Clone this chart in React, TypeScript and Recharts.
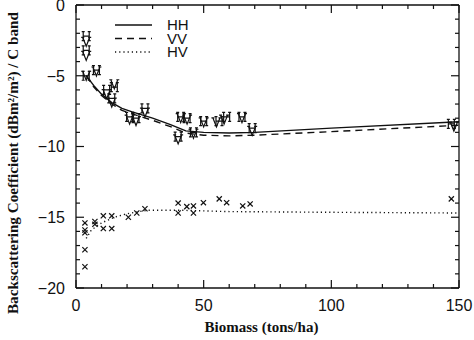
import React from "react";
import {
  ComposedChart,
  Line,
  Scatter,
  XAxis,
  YAxis,
} from "recharts";

// ---- data ----
const hhLine = [
  { x: 4, y: -5.0 }, { x: 7, y: -5.7 }, { x: 10, y: -6.3 }, { x: 14, y: -6.9 },
  { x: 18, y: -7.3 }, { x: 22, y: -7.55 }, { x: 30, y: -8.0 }, { x: 37, y: -8.45 },
  { x: 43, y: -8.9 }, { x: 50, y: -9.0 }, { x: 60, y: -9.05 }, { x: 70, y: -9.0 },
  { x: 100, y: -8.7 }, { x: 150, y: -8.25 },
];
const vvLine = [
  { x: 4, y: -5.0 }, { x: 7, y: -5.8 }, { x: 10, y: -6.4 }, { x: 14, y: -7.0 },
  { x: 18, y: -7.45 }, { x: 22, y: -7.7 }, { x: 30, y: -8.15 }, { x: 37, y: -8.6 },
  { x: 43, y: -9.05 }, { x: 50, y: -9.2 }, { x: 60, y: -9.25 }, { x: 70, y: -9.2 },
  { x: 100, y: -8.95 }, { x: 150, y: -8.5 },
];
const hvLine = [
  { x: 4, y: -16.5 }, { x: 6, y: -15.9 }, { x: 10, y: -15.4 }, { x: 15, y: -15.0 },
  { x: 20, y: -14.75 }, { x: 28, y: -14.5 }, { x: 40, y: -14.5 }, { x: 60, y: -14.6 },
  { x: 100, y: -14.65 }, { x: 150, y: -14.7 },
];
const hhPoints = [
  { x: 4, y: -2.2 }, { x: 4, y: -3.2 }, { x: 4, y: -5.0 }, { x: 8, y: -4.6 },
  { x: 12, y: -6.0 }, { x: 14, y: -6.6 }, { x: 15, y: -5.8 }, { x: 21, y: -7.9 },
  { x: 23.5, y: -8.0 }, { x: 27, y: -7.3 }, { x: 40, y: -9.3 }, { x: 41, y: -7.9 },
  { x: 43.5, y: -8.0 }, { x: 46, y: -9.0 }, { x: 50, y: -8.2 }, { x: 56, y: -8.2 },
  { x: 59, y: -7.9 }, { x: 65, y: -7.9 }, { x: 69, y: -8.7 }, { x: 147, y: -8.4 },
];
const vvPoints = [
  { x: 4, y: -2.6 }, { x: 4, y: -3.6 }, { x: 4, y: -5.0 }, { x: 8, y: -4.7 },
  { x: 12, y: -6.3 }, { x: 14, y: -6.9 }, { x: 15, y: -5.6 }, { x: 21, y: -8.1 },
  { x: 23.5, y: -8.2 }, { x: 27, y: -7.6 }, { x: 40, y: -9.5 }, { x: 41, y: -8.0 },
  { x: 43.5, y: -8.1 }, { x: 46, y: -9.1 }, { x: 50, y: -8.3 }, { x: 55, y: -8.3 },
  { x: 58, y: -8.1 }, { x: 65, y: -8.0 }, { x: 69, y: -8.9 }, { x: 148, y: -8.6 },
];
const hvPoints = [
  { x: 3.5, y: -15.4 }, { x: 3.5, y: -15.9 }, { x: 3.5, y: -16.1 }, { x: 3.5, y: -17.3 },
  { x: 3.5, y: -18.5 }, { x: 7.4, y: -15.3 }, { x: 7.4, y: -15.5 }, { x: 10.7, y: -14.9 },
  { x: 10.7, y: -15.8 }, { x: 14, y: -14.9 }, { x: 14, y: -15.8 }, { x: 20.5, y: -15.0 },
  { x: 23.8, y: -14.7 }, { x: 27, y: -14.4 }, { x: 40, y: -14.0 }, { x: 40, y: -14.7 },
  { x: 43.4, y: -14.25 }, { x: 46, y: -14.2 }, { x: 46, y: -14.7 }, { x: 49.9, y: -13.97 },
  { x: 56.1, y: -13.7 }, { x: 59, y: -13.97 }, { x: 65.3, y: -14.2 }, { x: 68.2, y: -14.06 },
  { x: 147, y: -13.7 },
];
const xTicks = [0, 10, 20, 30, 40, 50, 60, 70, 80, 90, 100, 110, 120, 130, 140, 150];
const xLabelTicks = [0, 50, 100, 150];
const yTicks = [-20, -19, -18, -17, -16, -15, -14, -13, -12, -11, -10, -9, -8, -7, -6, -5, -4, -3, -2, -1, 0];
const yLabelTicks = [0, -5, -10, -15, -20];
const legendItems = [
  { name: "HH", dash: "none" },
  { name: "VV", dash: "7 5" },
  { name: "HV", dash: "1.2 3" },
];
const xTitle = "Biomass (tons/ha)";
const yTitle = "Backscattering Coefficient (dBm²/m²) / C band";

const INK = "#111";
const SANS = "'Liberation Sans', Arial, sans-serif";
const SERIF = "'Liberation Serif', 'Times New Roman', serif";

const fmt = (v: number) => (v < 0 ? "\u2212" + Math.abs(v) : String(v));

const BottomTick = (p: any) => {
  const v = p.payload.value;
  const major = xLabelTicks.includes(v);
  return (
    <g>
      <line x1={p.x} x2={p.x} y1={p.y} y2={p.y - (major ? 8 : 4)} stroke={INK} strokeWidth={1.2} />
      {major && (
        <text x={p.x} y={p.y + 23} textAnchor="middle" fontFamily={SANS} fontSize={16} fill={INK}>
          {fmt(v)}
        </text>
      )}
    </g>
  );
};
const TopTick = (p: any) => {
  const v = p.payload.value;
  const major = xLabelTicks.includes(v);
  return <line x1={p.x} x2={p.x} y1={p.y} y2={p.y + (major ? 8 : 4)} stroke={INK} strokeWidth={1.2} />;
};
const LeftTick = (p: any) => {
  const v = p.payload.value;
  const major = yLabelTicks.includes(v);
  return (
    <g>
      <line x1={p.x} x2={p.x + (major ? 8 : 4)} y1={p.y} y2={p.y} stroke={INK} strokeWidth={1.2} />
      {major && (
        <text x={p.x - 11} y={p.y} dy="0.36em" textAnchor="end" fontFamily={SANS} fontSize={16} fill={INK}>
          {fmt(v)}
        </text>
      )}
    </g>
  );
};
const RightTick = (p: any) => {
  const v = p.payload.value;
  const major = yLabelTicks.includes(v);
  return <line x1={p.x} x2={p.x - (major ? 8 : 4)} y1={p.y} y2={p.y} stroke={INK} strokeWidth={1.2} />;
};

const HShape = (p: any) => {
  const { cx, cy } = p;
  const d = `M${cx - 3},${cy - 4.5}V${cy + 4.5}M${cx + 3},${cy - 4.5}V${cy + 4.5}M${cx - 3},${cy}H${cx + 3}` +
    `M${cx - 4.5},${cy - 4.5}H${cx - 1.5}M${cx + 1.5},${cy - 4.5}H${cx + 4.5}` +
    `M${cx - 4.5},${cy + 4.5}H${cx - 1.5}M${cx + 1.5},${cy + 4.5}H${cx + 4.5}`;
  return <path d={d} stroke={INK} strokeWidth={1.2} fill="none" />;
};
const VShape = (p: any) => {
  const { cx, cy } = p;
  const d = `M${cx - 3.5},${cy - 4.5}L${cx},${cy + 4.5}L${cx + 3.5},${cy - 4.5}` +
    `M${cx - 5},${cy - 4.5}H${cx - 2}M${cx + 2},${cy - 4.5}H${cx + 5}`;
  return <path d={d} stroke={INK} strokeWidth={1.2} fill="none" />;
};
const XShape = (p: any) => {
  const { cx, cy } = p;
  const d = `M${cx - 2.6},${cy - 2.6}L${cx + 2.6},${cy + 2.6}M${cx + 2.6},${cy - 2.6}L${cx - 2.6},${cy + 2.6}`;
  return <path d={d} stroke={INK} strokeWidth={1.2} fill="none" />;
};

const LegendBox = () => (
  <svg width={120} height={50} style={{ position: "absolute", left: 112, top: 15 }}>
    {legendItems.map((it, i) => (
      <g key={it.name}>
        <line
          x1={3}
          x2={40}
          y1={10 + i * 13.5}
          y2={10 + i * 13.5}
          stroke={INK}
          strokeWidth={1.3}
          strokeDasharray={it.dash === "none" ? undefined : it.dash}
        />
        <text x={55} y={10 + i * 13.5} dy="0.36em" fontFamily={SANS} fontSize={15} fill={INK}>
          {it.name}
        </text>
      </g>
    ))}
  </svg>
);

const XTitle = (p: any) => {
  const vb = p.viewBox;
  return (
    <text x={vb.x + vb.width / 2 - 6} y={vb.y + 44} textAnchor="middle" fontFamily={SERIF} fontWeight="bold" fontSize={15} fill={INK}>
      {xTitle}
    </text>
  );
};
const YTitle = (p: any) => {
  const vb = p.viewBox;
  const cx = 13;
  const cy = vb.y + 158;
  return (
    <text
      x={cx}
      y={cy}
      dy="0.36em"
      transform={`rotate(-90 ${cx} ${cy})`}
      textAnchor="middle"
      fontFamily={SERIF}
      fontWeight="bold"
      fontSize={14}
      fill={INK}
      textLength={302}
      lengthAdjust="spacingAndGlyphs"
    >
      {yTitle}
    </text>
  );
};

export default function App() {
  return (
    <div style={{ position: "absolute", left: 0, top: 0, width: 474, height: 340, background: "#fff" }}>
      <ComposedChart width={474} height={340} margin={{ top: 4, right: 14, bottom: 51, left: 75 }}>
        <XAxis
          xAxisId="b"
          dataKey="x"
          type="number"
          domain={[0, 150]}
          ticks={xTicks}
          interval={0}
          height={1}
          tickSize={0}
          tickMargin={0}
          tickLine={false}
          axisLine={{ stroke: INK, strokeWidth: 1.3 }}
          tick={<BottomTick />}
          allowDataOverflow
          label={<XTitle />}
        />
        <XAxis
          xAxisId="t"
          orientation="top"
          dataKey="x"
          type="number"
          domain={[0, 150]}
          ticks={xTicks}
          interval={0}
          height={1}
          tickSize={0}
          tickMargin={0}
          tickLine={false}
          axisLine={{ stroke: INK, strokeWidth: 1.3 }}
          tick={<TopTick />}
          allowDataOverflow
        />
        <YAxis
          yAxisId="l"
          dataKey="y"
          type="number"
          domain={[-20, 0]}
          ticks={yTicks}
          interval={0}
          width={1}
          tickSize={0}
          tickMargin={0}
          tickLine={false}
          axisLine={{ stroke: INK, strokeWidth: 1.3 }}
          tick={<LeftTick />}
          allowDataOverflow
          label={<YTitle />}
        />
        <YAxis
          yAxisId="r"
          orientation="right"
          dataKey="y"
          type="number"
          domain={[-20, 0]}
          ticks={yTicks}
          interval={0}
          width={1}
          tickSize={0}
          tickMargin={0}
          tickLine={false}
          axisLine={{ stroke: INK, strokeWidth: 1.3 }}
          tick={<RightTick />}
          allowDataOverflow
        />
        <Line xAxisId="b" yAxisId="l" data={hhLine} dataKey="y" stroke={INK} strokeWidth={1.4} dot={false} isAnimationActive={false} legendType="none" />
        <Line xAxisId="b" yAxisId="l" data={vvLine} dataKey="y" stroke={INK} strokeWidth={1.4} strokeDasharray="7 5" dot={false} isAnimationActive={false} legendType="none" />
        <Line xAxisId="b" yAxisId="l" data={hvLine} dataKey="y" stroke={INK} strokeWidth={1.4} strokeDasharray="1.2 3" dot={false} isAnimationActive={false} legendType="none" />
        <Scatter xAxisId="b" yAxisId="l" data={hhPoints} shape={<HShape />} isAnimationActive={false} legendType="none" />
        <Scatter xAxisId="b" yAxisId="l" data={vvPoints} shape={<VShape />} isAnimationActive={false} legendType="none" />
        <Scatter xAxisId="b" yAxisId="l" data={hvPoints} shape={<XShape />} isAnimationActive={false} legendType="none" />
      </ComposedChart>
      <LegendBox />
    </div>
  );
}
